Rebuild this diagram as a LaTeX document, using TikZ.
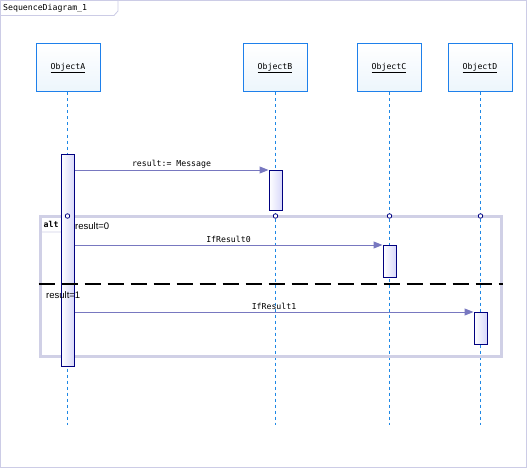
\documentclass[tikz,border=0pt]{standalone}
\usepackage{fontspec}
\setmonofont{DejaVu Sans Mono}
\setsansfont{Liberation Sans}
\usetikzlibrary{arrows.meta}
\definecolor{objblue}{RGB}{30,128,235}
\definecolor{objfill}{RGB}{236,245,252}
\definecolor{lifeblue}{RGB}{30,136,229}
\definecolor{actnavy}{RGB}{0,0,128}
\definecolor{actfill}{RGB}{216,216,250}
\definecolor{msgcol}{RGB}{120,120,192}
\definecolor{fragcol}{RGB}{208,208,230}
\definecolor{framecol}{RGB}{204,204,230}
\tikzset{
  objbox/.style={draw=objblue, line width=1pt, top color=white, bottom color=objfill,
    minimum width=64pt, minimum height=48pt, inner sep=0pt,
    font=\ttfamily\fontsize{8.2}{10}\selectfont},
  life/.style={draw=lifeblue, line width=0.9pt, dash pattern=on 3pt off 3pt},
  act/.style={draw=actnavy, line width=1pt, left color=white, right color=actfill,
    minimum width=13pt, inner sep=0pt, anchor=north},
  msg/.style={draw=msgcol, line width=1pt, -{Triangle[length=9pt,width=7pt]}},
  msglabel/.style={font=\ttfamily\fontsize{8.2}{10}\selectfont, anchor=south, inner sep=1.5pt},
  guard/.style={font=\sffamily\fontsize{9.5}{11}\selectfont, anchor=west, inner sep=0pt},
  dot/.style={circle, draw=actnavy, fill=white, line width=0.8pt, minimum size=4.5pt, inner sep=0pt},
}
\begin{document}
\begin{tikzpicture}[x=1pt,y=-1pt]
\useasboundingbox (0,0) rectangle (527,468);
% outer frame
\draw[framecol, line width=1pt] (0.5,0.5) rectangle (526.5,467.5);
% title tab
\draw[framecol, line width=0.8pt, fill=white] (0.5,0.5) -- (118,0.5) -- (118,11) -- (114,15.5) -- (0.5,15.5) -- cycle;
\node[font=\ttfamily\fontsize{8.2}{10}\selectfont, anchor=west, inner sep=0pt] (title) at (3,8) {SequenceDiagram\_1};
% objects
\node[objbox] (A) at (68,68) {\underline{ObjectA}};
\node[objbox] (B) at (275,68) {\underline{ObjectB}};
\node[objbox] (C) at (389,68) {\underline{ObjectC}};
\node[objbox] (D) at (480,68) {\underline{ObjectD}};
% lifeline ends
\coordinate (Aend) at (67.5,425);
\coordinate (Bend) at (275.5,425);
\coordinate (Cend) at (389.5,425);
\coordinate (Dend) at (480.5,425);
\draw[life] (A.south -| Aend) -- (Aend);
\draw[life] (B.south -| Bend) -- (Bend);
\draw[life] (C.south -| Cend) -- (Cend);
\draw[life] (D.south -| Dend) -- (Dend);
% alt fragment
\node[draw=fragcol, line width=3pt, minimum width=461pt, minimum height=140pt, inner sep=0pt] (alt) at (270.5,286) {};
\draw[fragcol, line width=0.8pt, fill=white] (41.5,217.5) -- (70,217.5) -- (70,228) -- (66,232) -- (41.5,232) -- cycle;
\node[font=\ttfamily\bfseries\fontsize{8.2}{10}\selectfont, anchor=west, inner sep=0pt] (altlabel) at (43.5,224.5) {alt};
% activations
\node[act, minimum height=212pt] (aA) at (67.5,154) {};
\node[act, minimum height=40pt] (aB) at (275.5,170) {};
\node[act, minimum height=32pt] (aC) at (389.5,245) {};
\node[act, minimum height=32pt] (aD) at (480.5,312) {};
% fragment-top dots
\node[dot] (dA) at (67.5,216) {};
\node[dot] (dB) at (275.5,216) {};
\node[dot] (dC) at (389.5,216) {};
\node[dot] (dD) at (480.5,216) {};
% separator
\draw[black, line width=1.2pt, dash pattern=on 16pt off 7pt] (alt.west |- 0,284) -- (alt.east |- 0,284);
% guards
\node[guard] (g0) at (75,226.5) {result=0};
\node[guard] (g1) at (46,295) {result=1};
% messages
\draw[msg] (aA.east |- aB.north west) -- node[msglabel, pos=0.5] {result:= Message} (aB.north west);
\draw[msg] (aA.east |- aC.north west) -- node[msglabel, pos=0.5] {IfResult0} (aC.north west);
\draw[msg] (aA.east |- aD.north west) -- node[msglabel, pos=0.5] {IfResult1} (aD.north west);
\end{tikzpicture}
\end{document}
